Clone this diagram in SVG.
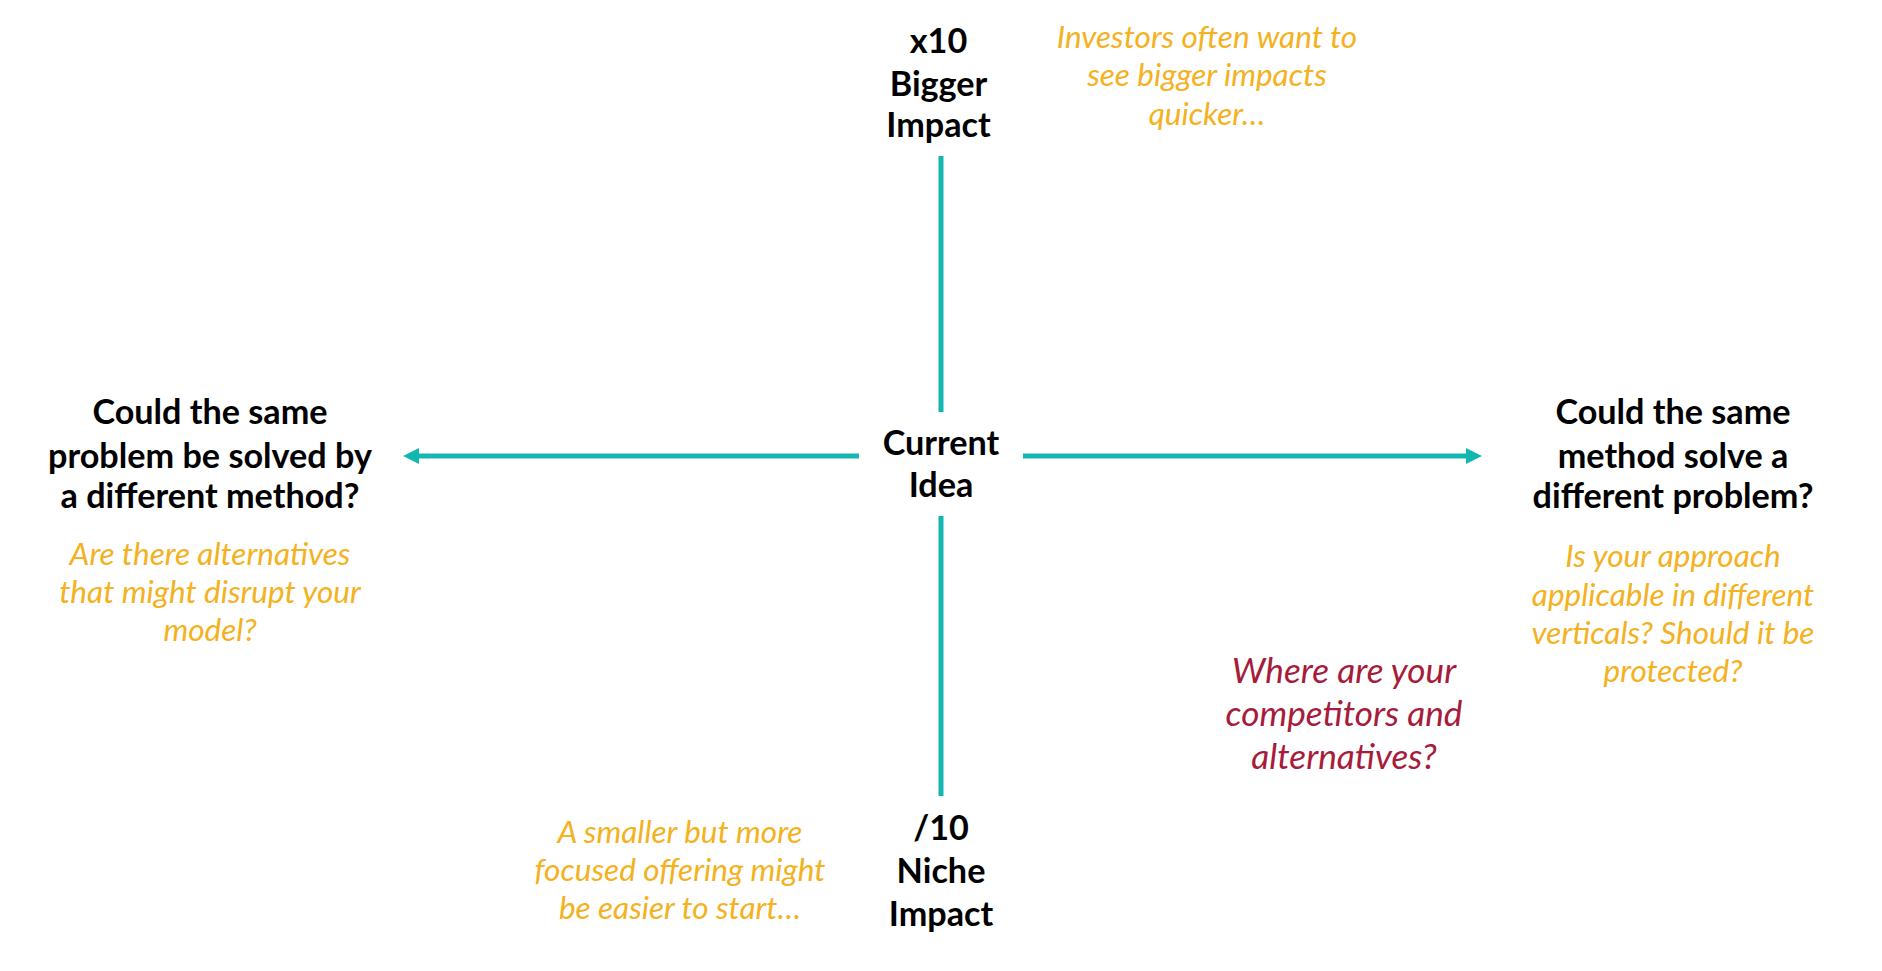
<svg xmlns="http://www.w3.org/2000/svg" width="1882" height="971" viewBox="0 0 1882 971">
<defs>
<marker id="arr" markerUnits="userSpaceOnUse" markerWidth="16" markerHeight="16" viewBox="0 0 16 16" refX="1" refY="8" orient="auto">
<path d="M0,0 L16,8 L0,16 Z" fill="#13B7AF"/>
</marker>
<style>
.h{font-family:Lato,"Liberation Sans",sans-serif;font-weight:bold;font-size:34.2px;fill:#000;text-anchor:middle}
.n{font-family:Lato,"Liberation Sans",sans-serif;font-style:italic;font-size:31.5px;fill:#F4B120;text-anchor:middle}
.r{font-family:Lato,"Liberation Sans",sans-serif;font-style:italic;font-size:35.2px;fill:#A71B3B;text-anchor:middle}
.ln{stroke:#13B7AF;stroke-width:5;fill:none}
</style>
</defs>
<rect width="1882" height="971" fill="#fff"/>
<g id="connectors">
<line class="ln" x1="941" y1="156" x2="941" y2="412"/>
<line class="ln" x1="941" y1="516" x2="941" y2="796"/>
<line class="ln" x1="859" y1="456" x2="418" y2="456" marker-end="url(#arr)"/>
<line class="ln" x1="1023" y1="456" x2="1467" y2="456" marker-end="url(#arr)"/>
</g>
<g id="top">
<text class="h" x="938.5" y="52.5">x10</text>
<text class="h" x="938.5" y="95.5">Bigger</text>
<text class="h" x="938.5" y="137">Impact</text>
</g>
<g id="top-note">
<text class="n" x="1207" y="48">Investors often want to</text>
<text class="n" x="1207" y="86">see bigger impacts</text>
<text class="n" x="1207" y="124.5">quicker…</text>
</g>
<g id="center">
<text class="h" x="941" y="455">Current</text>
<text class="h" x="941" y="497">Idea</text>
</g>
<g id="left">
<text class="h" x="210" y="424">Could the same</text>
<text class="h" x="210" y="467.5">problem be solved by</text>
<text class="h" x="210" y="508">a different method?</text>
</g>
<g id="left-note">
<text class="n" x="210" y="565">Are there alternatives</text>
<text class="n" x="210" y="603">that might disrupt your</text>
<text class="n" x="210" y="641">model?</text>
</g>
<g id="right">
<text class="h" x="1673" y="424">Could the same</text>
<text class="h" x="1673" y="467.5">method solve a</text>
<text class="h" x="1673" y="508">different problem?</text>
</g>
<g id="right-note">
<text class="n" x="1673" y="566.5">Is your approach</text>
<text class="n" x="1673" y="605.5">applicable in different</text>
<text class="n" x="1673" y="643.5">verticals? Should it be</text>
<text class="n" x="1673" y="681.5">protected?</text>
</g>
<g id="competitors">
<text class="r" x="1344" y="682.5">Where are your</text>
<text class="r" x="1344" y="725.5">competitors and</text>
<text class="r" x="1344" y="768.5">alternatives?</text>
</g>
<g id="bottom">
<text class="h" x="941" y="839.5">/10</text>
<text class="h" x="941" y="883">Niche</text>
<text class="h" x="941" y="925.5">Impact</text>
</g>
<g id="bottom-note">
<text class="n" x="680" y="842.5">A smaller but more</text>
<text class="n" x="680" y="880.5">focused offering might</text>
<text class="n" x="680" y="918.5">be easier to start…</text>
</g>
</svg>
